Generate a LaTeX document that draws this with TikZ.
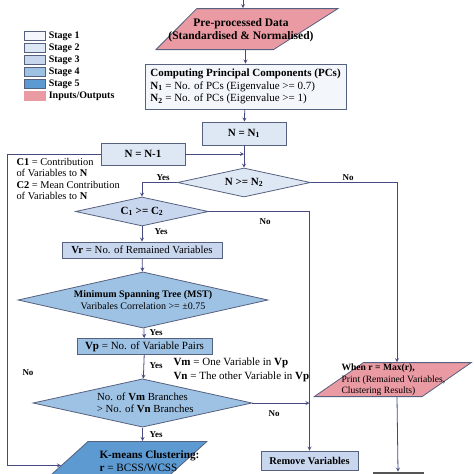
\documentclass[tikz,border=0pt]{standalone}
\usepackage{fontspec}
\setmainfont{Liberation Serif}
\usetikzlibrary{shapes.geometric}
\definecolor{frame}{HTML}{56607F}
\definecolor{wire}{HTML}{454A80}
\definecolor{stageA}{HTML}{F3F7FC}
\definecolor{stageB}{HTML}{DEE8F5}
\definecolor{stageC}{HTML}{C9D7EE}
\definecolor{stageD}{HTML}{9EC2E3}
\definecolor{stageE}{HTML}{5D9AD2}
\definecolor{inout}{HTML}{E99AA3}
\definecolor{ending}{HTML}{555555}
\begin{document}
\begin{tikzpicture}[x=1pt,y=-1pt,>=stealth,
    every node/.style={font=\fontsize{11}{12.5}\selectfont},
    box/.style={draw=frame,line width=0.8pt,inner sep=1pt},
    dia/.style={box,diamond,aspect=4,align=center},
    io/.style={box,trapezium,trapezium stretches=true,fill=inout},
    lbl/.style={font=\bfseries\fontsize{9}{10}\selectfont},
    key/.style={draw=frame,line width=0.6pt,minimum width=21,minimum height=9,inner sep=0pt},
    keytext/.style={anchor=west,font=\bfseries\fontsize{10}{12}\selectfont}]
      \useasboundingbox (0,0) rectangle (474,474);
      % legend
      \node[key,fill=stageA] (k1) at (34.5,36) {};
      \node[key,fill=stageB] (k2) at (34.5,48) {};
      \node[key,fill=stageC] (k3) at (34.5,60) {};
      \node[key,fill=stageD] (k4) at (34.5,72) {};
      \node[key,fill=stageE] (k5) at (34.5,84) {};
      \node[key,fill=inout,draw=inout] (k6) at (34.5,96) {};
      \node[keytext] (t1) at (k1.east) {Stage 1};
      \node[keytext] (t2) at (k2.east) {Stage 2};
      \node[keytext] (t3) at (k3.east) {Stage 3};
      \node[keytext] (t4) at (k4.east) {Stage 4};
      \node[keytext] (t5) at (k5.east) {Stage 5};
      \node[keytext] (t6) at (k6.east) {Inputs/Outputs};
      % main column
      \coordinate (entry) at (243,0);
      \coordinate (lft) at (7,0);
      \coordinate (rx) at (397,0);
      \node[io,trapezium left angle=62,trapezium right angle=130,
        minimum width=182,minimum height=41,anchor=bottom left corner] (pre) at (155,50) {};
      \node[align=center,font=\bfseries\fontsize{11.5}{13}\selectfont] (pret) at (241,30) {Pre-processed Data\\(Standardised \& Normalised)};
      \node[box,fill=stageA,align=left,minimum width=201,minimum height=45] (pcs) at (245.5,86.5)
        {\textbf{Computing Principal Components (PCs)}\\
         \textbf{N\textsubscript{1}} = No. of PCs (Eigenvalue >= 0.7)\\
         \textbf{N\textsubscript{2}} = No. of PCs (Eigenvalue >= 1)};
      \node[box,fill=stageB,minimum width=84,minimum height=23,font=\bfseries\fontsize{11}{13}\selectfont] (nn1) at (244,133.5) {N = N\textsubscript{1}};
      \node[box,fill=stageB,minimum width=84,minimum height=22,font=\bfseries\fontsize{11}{13}\selectfont] (nnm) at (143,154) {N = N-1};
      \node[dia,fill=stageB,minimum width=133,minimum height=29,font=\bfseries\fontsize{11}{13}\selectfont] (dn2) at (244,182.5) {N >= N\textsubscript{2}};
      \node[align=left,anchor=west,font=\fontsize{10.4}{11.5}\selectfont] (cnote) at (13,179)
        {\textbf{C1} = Contribution\\ of Variables to \textbf{N}\\ \textbf{C2} = Mean Contribution\\ of Variables to \textbf{N}};
      \node[dia,fill=stageC,minimum width=133,minimum height=29,font=\bfseries\fontsize{11}{13}\selectfont] (dc) at (142,211.5) {C\textsubscript{1} >= C\textsubscript{2}};
      \node[box,fill=stageC,minimum width=160,minimum height=16,font=\fontsize{10.8}{12}\selectfont] (vr) at (142,250) {\textbf{Vr} = No. of Remained Variables};
      \node[dia,fill=stageD,minimum width=250,minimum height=54,font=\fontsize{10}{12}\selectfont] (mst) at (143,300)
        {\textbf{Minimum Spanning Tree (MST)}\\ Varibales Correlation >= ±0.75};
      \node[box,fill=stageD,minimum width=135,minimum height=16] (vp) at (144.5,346.5) {\textbf{Vp} = No. of Variable Pairs};
      \node[align=left,anchor=west,font=\fontsize{11}{13.5}\selectfont] (vnote) at (170,370)
        {\textbf{Vm} = One Variable in \textbf{Vp}\\ \textbf{Vn} = The other Variable in \textbf{Vp}};
      \node[dia,fill=stageD,minimum width=219,minimum height=48,font=\fontsize{10.8}{12.5}\selectfont] (dvm) at (142.5,403)
        {No. of \textbf{Vm} Branches\\ \ \ > No. of \textbf{Vn} Branches};
      \node[io,fill=stageE,trapezium left angle=51,trapezium right angle=129,
        minimum width=172,minimum height=48,anchor=top left corner] (km) at (88,441) {};
      \node[align=left,anchor=west,font=\fontsize{11.2}{13}\selectfont] (kmt) at (96,461) {\textbf{K-means Clustering:}\\ \textbf{r} = BCSS/WCSS};
      \node[box,fill=stageC,minimum width=97,minimum height=19,font=\bfseries\fontsize{10.4}{12}\selectfont] (rv) at (309.5,460.5) {Remove Variables};
      \node[io,trapezium left angle=50,trapezium right angle=130,
        minimum width=157,minimum height=34,anchor=bottom left corner] (wmax) at (313,397) {};
      \node[align=left,anchor=west,font=\fontsize{9.6}{11.5}\selectfont] (wmaxt) at (338,380)
        {\textbf{When r = Max(r),}\\ Print (Remained Variables,\\ Clustering Results)};
      \node[box,fill=ending,draw=ending,minimum width=50,minimum height=20] (fin) at (398,482) {};
      % branch labels
      \node[lbl] (y1) at (163,178) {Yes};
      \node[lbl] (n1) at (348,178) {No};
      \node[lbl] (n2) at (265,222) {No};
      \node[lbl] (y2) at (161,232) {Yes};
      \node[lbl] (y3) at (156,333) {Yes};
      \node[lbl] (y4) at (156,366) {Yes};
      \node[lbl] (n3) at (274,414) {No};
      \node[lbl] (y5) at (156,435) {Yes};
      \node[lbl] (n4) at (28,373) {No};
      \begin{scope}[->,draw=wire,line width=0.8pt]
        \draw (entry) -- (entry |- pre.north);
        \draw (pcs.north |- pre.south) -- (pcs.north);
        \draw (pcs) -- (nn1);
        \draw (nn1) -- (dn2);
        \draw (nnm.east) -- (nn1.south |- nnm.east);
        \draw (nnm.west) -| (lft |- km.west) -- (km.west);
        \draw (dn2.west) -| (dc.north);
        \draw (dn2.east) -| (rx |- wmax.north);
        \draw (dc.east) -| (rv.north);
        \draw (dc) -- (vr);
        \draw (vr) -- (mst);
        \draw (mst) -- (vp);
        \draw (vp) -- (dvm);
        \draw (dvm.east) -- (rv.north |- dvm.east);
        \draw (dvm.south) -- (dvm.south |- km.north);
        \draw (rx |- wmax.south) -- (fin.north);
      \end{scope}
    \end{tikzpicture}
\end{document}
